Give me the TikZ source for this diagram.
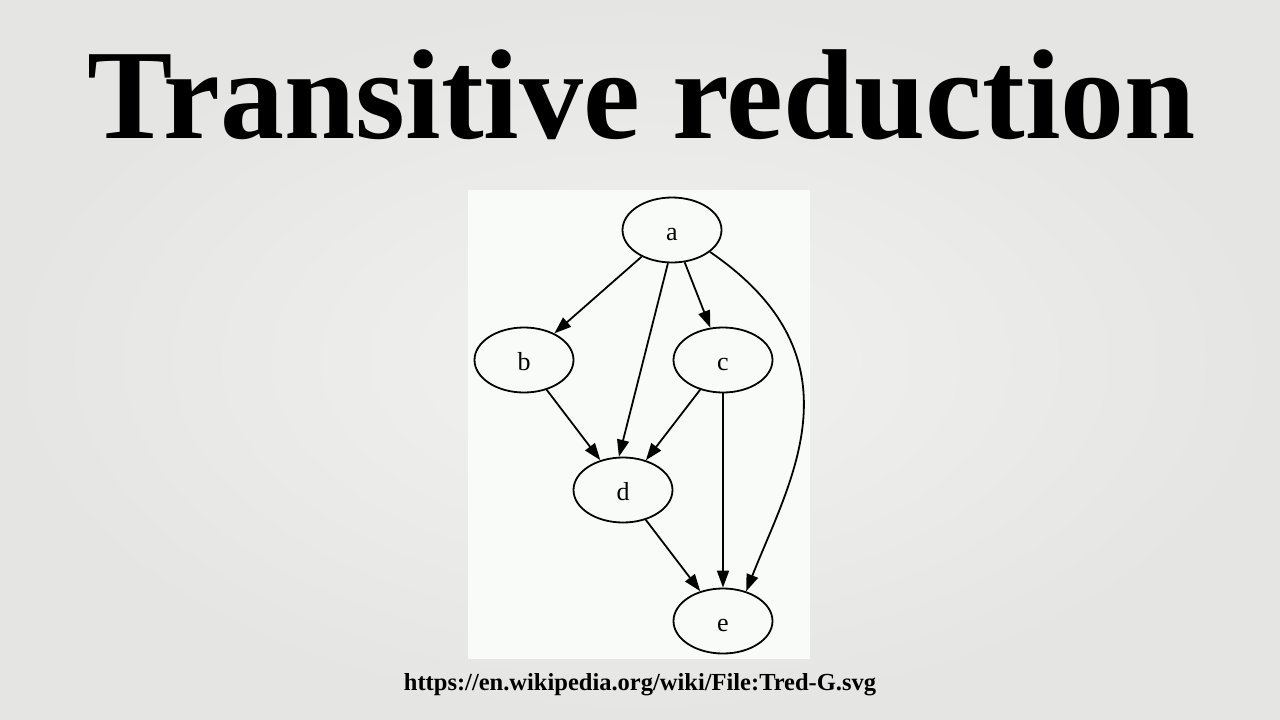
\documentclass[tikz,border=0pt]{standalone}
\usepackage{fontspec}
\setmainfont{Liberation Serif}
\usepackage{xcolor}
\usetikzlibrary{positioning,calc,arrows.meta,shapes.geometric}
\definecolor{bgouter}{RGB}{229,230,228}
\definecolor{bginner}{RGB}{242,242,241}
\definecolor{panelfill}{RGB}{249,251,249}
\tikzset{
  figfont/.style={font=\fontsize{26}{28}\selectfont},
  vertex/.style={draw, ellipse, line width=1.8pt, minimum width=99pt, minimum height=65pt, inner sep=0pt, text height=20pt, text depth=0pt},
  figarrow/.style={-{Triangle[length=17pt, width=12pt]}, line width=1.8pt},
}
\begin{document}
\begin{tikzpicture}[x=1pt, y=-1pt, figfont]
			% Background and figure panel
			\shade[inner color=bginner, outer color=bgouter] (0,0) rectangle (1280,720);
			\useasboundingbox (0,0) rectangle (1280,720);
			\fill[panelfill] (468,190) rectangle (810,659);

			% Title and source
			\node[font=\fontsize{128}{130}\selectfont\bfseries, anchor=base] (title) at (642,138) {Transitive reduction};
			\node[font=\fontsize{24.5}{26}\selectfont\bfseries, anchor=base] (source) at (640,690) {https://en.wikipedia.org/wiki/File:Tred-G.svg};

			% Vertices
			\node[vertex] (a) at (672,230) {a};
			\node[vertex, below=63.2pt of a, xshift=-148pt] (b) {b};
			\node[vertex, below=63.2pt of a, xshift=51pt] (c) {c};
			\node[vertex, below=63.2pt of b, xshift=99pt] (d) {d};
			\node[vertex, below=64.2pt of d, xshift=100pt] (e) {e};

			% Edges
			\draw[figarrow] (a) -- (b);
			\draw[figarrow] (a.-97) -- (d.97);
			\draw[figarrow] (a) -- (c);
			\draw[figarrow] (a.-30) .. controls (865,358) and (790,480) .. (e.52);
			\draw[figarrow] (b) -- (d);
			\draw[figarrow] (c) -- (d);
			\draw[figarrow] (c) -- (e);
			\draw[figarrow] (d) -- (e);
		\end{tikzpicture}
\end{document}
